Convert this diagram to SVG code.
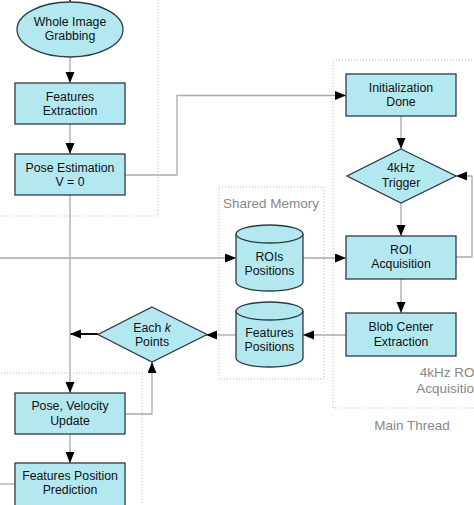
<svg xmlns="http://www.w3.org/2000/svg" width="474" height="505" viewBox="0 0 474 505">
<defs>
<marker id="ah" markerUnits="userSpaceOnUse" markerWidth="12" markerHeight="10" refX="11" refY="4.5" orient="auto">
<path d="M0,0 L11,4.5 L0,9 z" fill="#000"/>
</marker>
</defs>
<style>
.node{fill:#b4e8f1;stroke:#2b3b44;stroke-width:1.3}
.t{font-family:"Liberation Sans",Arial,sans-serif;font-size:12.3px;fill:#111;text-anchor:middle}
.g{font-family:"Liberation Sans",Arial,sans-serif;font-size:13.5px;fill:#888;text-anchor:middle}
.c{fill:none;stroke:#aaa;stroke-width:1.3}
.k{fill:none;stroke:#111;stroke-width:2}
.grp{fill:none;stroke:#bbb;stroke-width:1;stroke-dasharray:1,2}
</style>
<rect width="474" height="505" fill="#fff"/>
<g id="groups">
<rect class="grp" x="-2" y="-2" width="160" height="218"/>
<rect class="grp" x="-2" y="373" width="144" height="140"/>
<rect class="grp" x="219" y="187" width="105" height="192"/>
<rect class="grp" x="333" y="60" width="150" height="348"/>
<text class="g" x="271" y="208">Shared Memory</text>
<text class="g" x="449" y="377">4kHz ROI</text>
<text class="g" x="449" y="393">Acquisition</text>
<text class="g" x="412" y="430">Main Thread</text>
</g>
<g id="connectors">
<path class="c" d="M70,-12 V2" marker-end="url(#ah)"/>
<path class="c" d="M70,57 V83" marker-end="url(#ah)"/>
<path class="c" d="M70,124 V154" marker-end="url(#ah)"/>
<path class="c" d="M125,175 H177 V95.5 H346" marker-end="url(#ah)"/>
<path class="c" d="M401,116 V149" marker-end="url(#ah)"/>
<path class="c" d="M401,203 V236" marker-end="url(#ah)"/>
<path class="c" d="M456,257 H472 V176 H456" marker-end="url(#ah)"/>
<path class="c" d="M401,279 V313" marker-end="url(#ah)"/>
<path class="c" d="M0,258 H236" marker-end="url(#ah)"/>
<path class="c" d="M303,258 H346" marker-end="url(#ah)"/>
<path class="c" d="M346,335 H303" marker-end="url(#ah)"/>
<path class="c" d="M236,335 H206" marker-end="url(#ah)"/>
<path class="k" d="M98,334 H70" marker-end="url(#ah)"/>
<path class="c" d="M70,195 V393" marker-end="url(#ah)"/>
<path class="c" d="M125,414 H152 V362" marker-end="url(#ah)"/>
<path class="c" d="M70,434 V463" marker-end="url(#ah)"/>
<path class="c" d="M15,484 H0"/>
</g>
<g id="n-grab">
<ellipse class="node" cx="70" cy="29.5" rx="53" ry="27.5"/>
<text class="t" x="70" y="25.5">Whole Image</text>
<text class="t" x="70" y="39.5">Grabbing</text>
</g>
<g id="n-feat">
<rect class="node" x="15" y="83" width="110" height="41"/>
<text class="t" x="70" y="101">Features</text>
<text class="t" x="70" y="115">Extraction</text>
</g>
<g id="n-pose">
<rect class="node" x="15" y="154" width="110" height="41"/>
<text class="t" x="70" y="172">Pose Estimation</text>
<text class="t" x="70" y="186">V = 0</text>
</g>
<g id="n-init">
<rect class="node" x="346" y="74" width="110" height="42"/>
<text class="t" x="401" y="92">Initialization</text>
<text class="t" x="401" y="106">Done</text>
</g>
<g id="n-trig">
<path class="node" d="M401,149 L456,176 L401,203 L347,176 z"/>
<text class="t" x="401" y="172">4kHz</text>
<text class="t" x="401" y="186.5">Trigger</text>
</g>
<g id="n-roiacq">
<rect class="node" x="346" y="236" width="110" height="43"/>
<text class="t" x="401" y="254">ROI</text>
<text class="t" x="401" y="268">Acquisition</text>
</g>
<g id="n-blob">
<rect class="node" x="346" y="313" width="110" height="43"/>
<text class="t" x="401" y="331">Blob Center</text>
<text class="t" x="401" y="345.5">Extraction</text>
</g>
<g id="n-rois">
<path class="node" d="M236,234 A33.5,9 0 0 1 303,234 V282 A33.5,9 0 0 1 236,282 z"/>
<path class="node" d="M236,234 A33.5,9 0 0 0 303,234" fill="none"/>
<text class="t" x="269.5" y="261">ROIs</text>
<text class="t" x="269.5" y="275">Positions</text>
</g>
<g id="n-featpos">
<path class="node" d="M236,311 A33.5,9 0 0 1 303,311 V358 A33.5,9 0 0 1 236,358 z"/>
<path class="node" d="M236,311 A33.5,9 0 0 0 303,311" fill="none"/>
<text class="t" x="269.5" y="337">Features</text>
<text class="t" x="269.5" y="351">Positions</text>
</g>
<g id="n-eachk">
<path class="node" d="M152,307 L207,334.5 L152,362 L98,334.5 z"/>
<text class="t" x="152" y="331.5">Each <tspan font-style="italic">k</tspan></text>
<text class="t" x="152" y="345.5">Points</text>
</g>
<g id="n-posevel">
<rect class="node" x="15" y="393" width="110" height="41"/>
<text class="t" x="70" y="410">Pose, Velocity</text>
<text class="t" x="70" y="425">Update</text>
</g>
<g id="n-predict">
<rect class="node" x="15" y="463" width="110" height="46"/>
<text class="t" x="70" y="480">Features Position</text>
<text class="t" x="70" y="494">Prediction</text>
</g>
</svg>
